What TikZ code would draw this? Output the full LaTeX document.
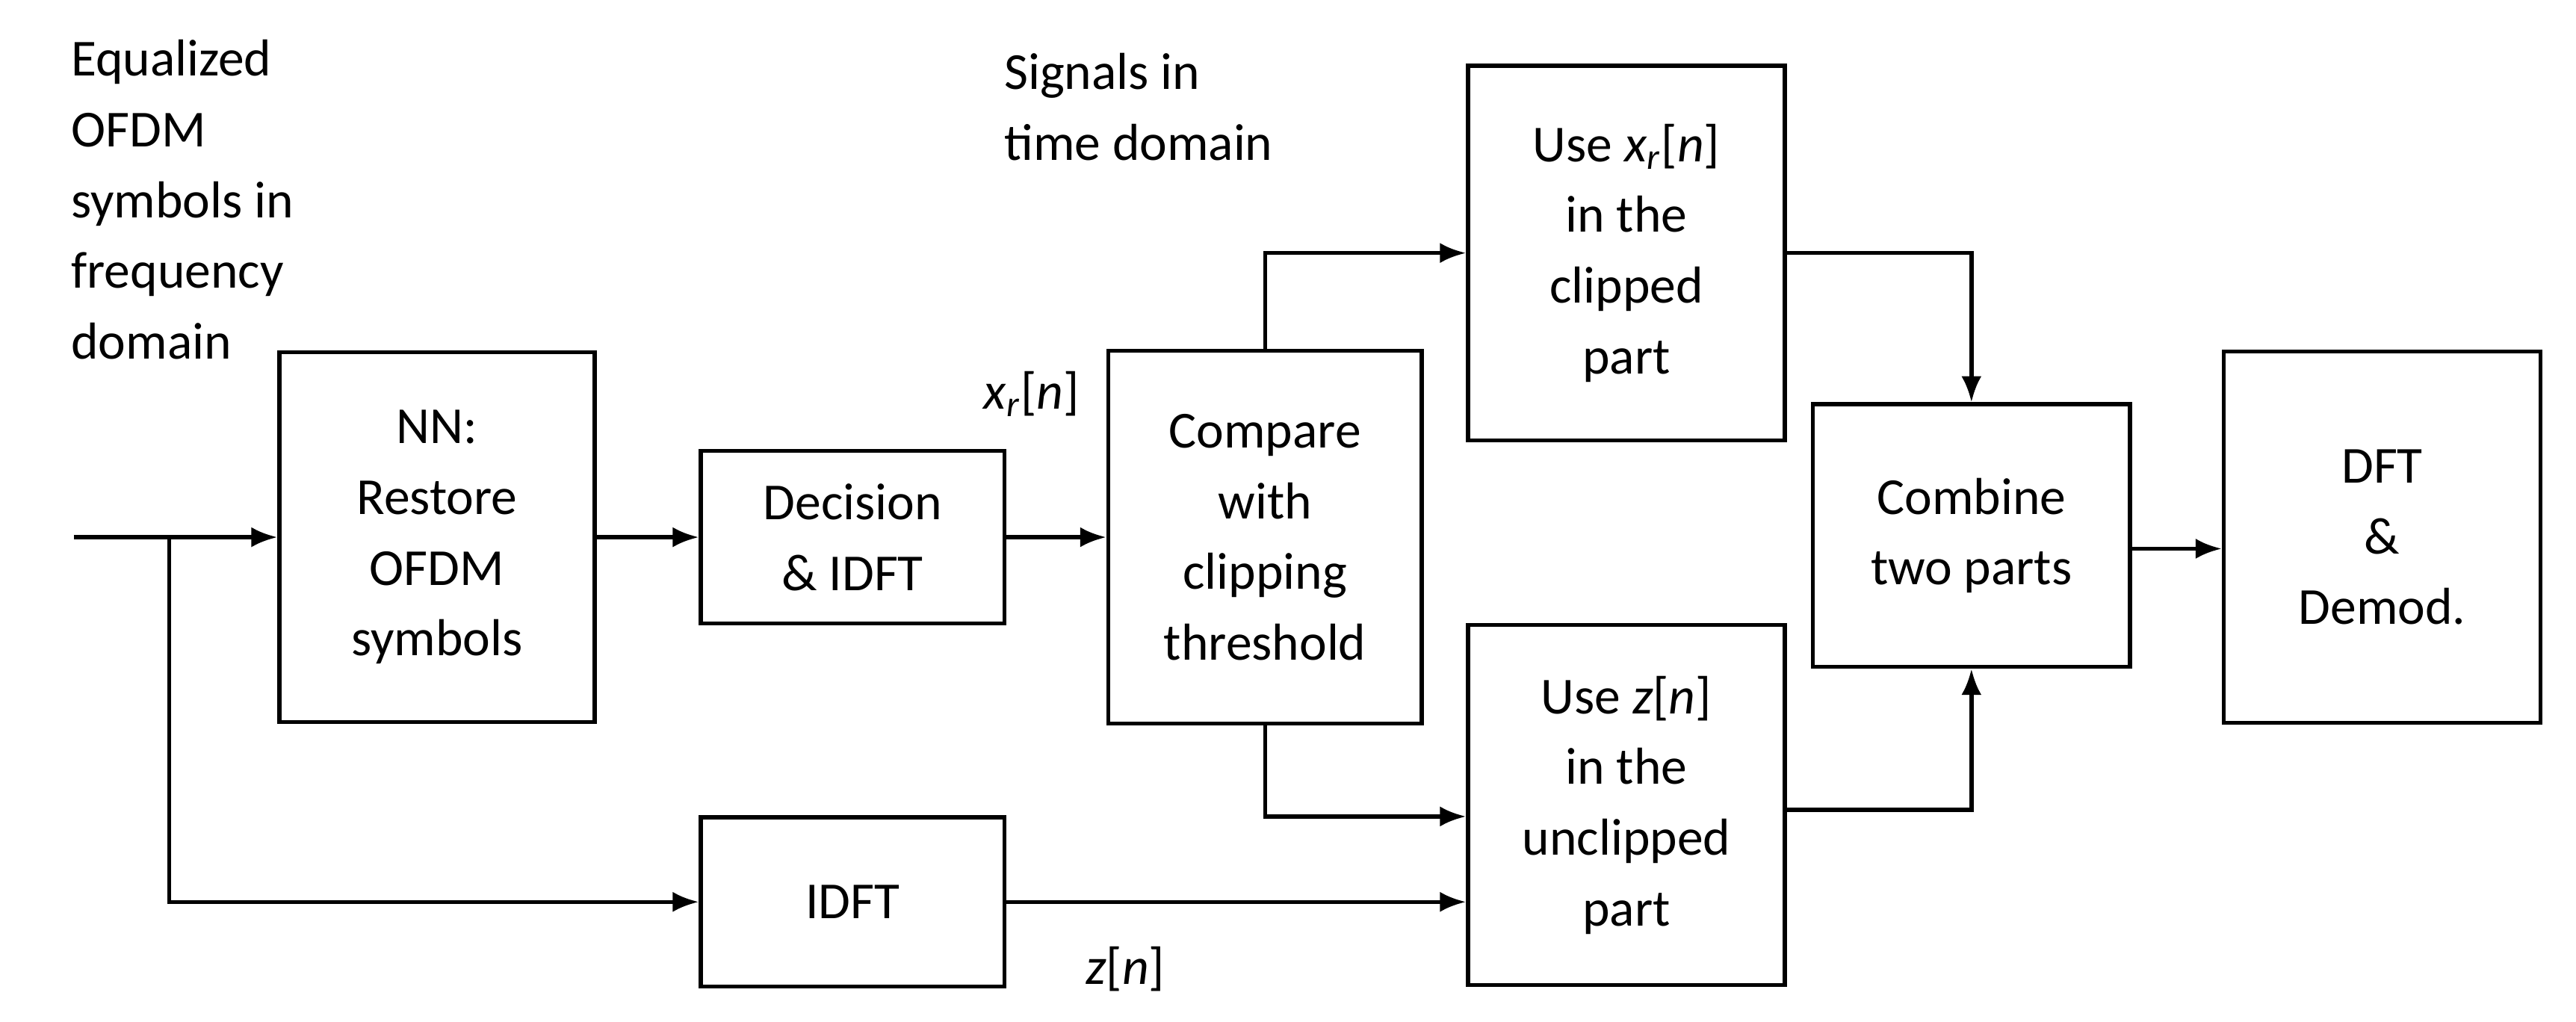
\documentclass[tikz,border=0pt]{standalone}
\usepackage{fontspec}
\setmainfont{Carlito}
\usetikzlibrary{arrows.meta}
\newcommand{\xrn}{\textit{x}\textsubscript{\textit{r}}[\textit{n}]}
\newcommand{\zn}{\textit{z}[\textit{n}]}
\begin{document}
\begin{tikzpicture}[x=0.02cm,y=-0.02cm,
  blk/.style={draw, line width=1.4pt, align=center, font=\fontsize{18}{24.5}\selectfont, inner sep=0pt},
  txt/.style={align=left, font=\fontsize{18}{24.5}\selectfont, inner sep=0pt},
  arr/.style={line width=1.4pt, -{Latex[length=9pt,width=7pt]}},
  lin/.style={line width=1.4pt}]
  \useasboundingbox (0,0) rectangle (1568,622);
  %% blocks
  \node[blk, minimum width=3.84cm, minimum height=4.5cm] (nn) at (266,327) {NN:\\Restore\\OFDM\\symbols};
  \node[blk, minimum width=3.7cm, minimum height=2.1cm] (dec) at (519,327) {Decision\\\& IDFT};
  \node[blk, minimum width=3.82cm, minimum height=4.54cm] (cmp) at (770,327) {Compare\\with\\clipping\\threshold};
  \node[blk, minimum width=3.86cm, minimum height=4.56cm] (usex) at (990,154) {Use \xrn\\in the\\clipped\\part};
  \node[blk, minimum width=3.86cm, minimum height=4.38cm] (usez) at (990,490) {Use \zn\\in the\\unclipped\\part};
  \node[blk, minimum width=3.86cm, minimum height=3.2cm] (comb) at (1200,326) {Combine\\two parts};
  \node[blk, minimum width=3.86cm, minimum height=4.52cm] (dft) at (1450,327) {DFT\\\&\\Demod.};
  \node[blk, minimum width=3.7cm, minimum height=2.06cm] (idft) at (519,549) {IDFT};

  %% labels
  \node[txt, anchor=north west] (lin1) at (43,24) {Equalized\\OFDM\\symbols in\\frequency\\domain};
  \node[txt, anchor=north west] (lsig) at (611,32) {Signals in\\time domain};
  \node[txt] (lxr) at (628,240) {\xrn};
  \node[txt] (lzn) at (685,590) {\zn};

  %% connectors
  \coordinate (in) at (45,327);
  \coordinate (br) at (103,327);
  \draw[arr] (in) -- (nn);
  \draw[arr] (br) |- (idft);
  \draw[arr] (nn) -- (dec);
  \draw[arr] (dec) -- (cmp);
  \draw[arr] (cmp.north) |- (usex.west);
  \draw[arr] (cmp.south) |- ([yshift=-0.14cm]usez.west);
  \draw[arr] (idft) -- (idft -| usez.west);
  \draw[arr] (usex.east) -| (comb.north);
  \draw[arr] ([yshift=-0.06cm]usez.east) -| (comb.south);
  \draw[arr] ([yshift=-0.16cm]comb.east) -- ([yshift=-0.16cm]comb.east -| dft.west);
\end{tikzpicture}
\end{document}
